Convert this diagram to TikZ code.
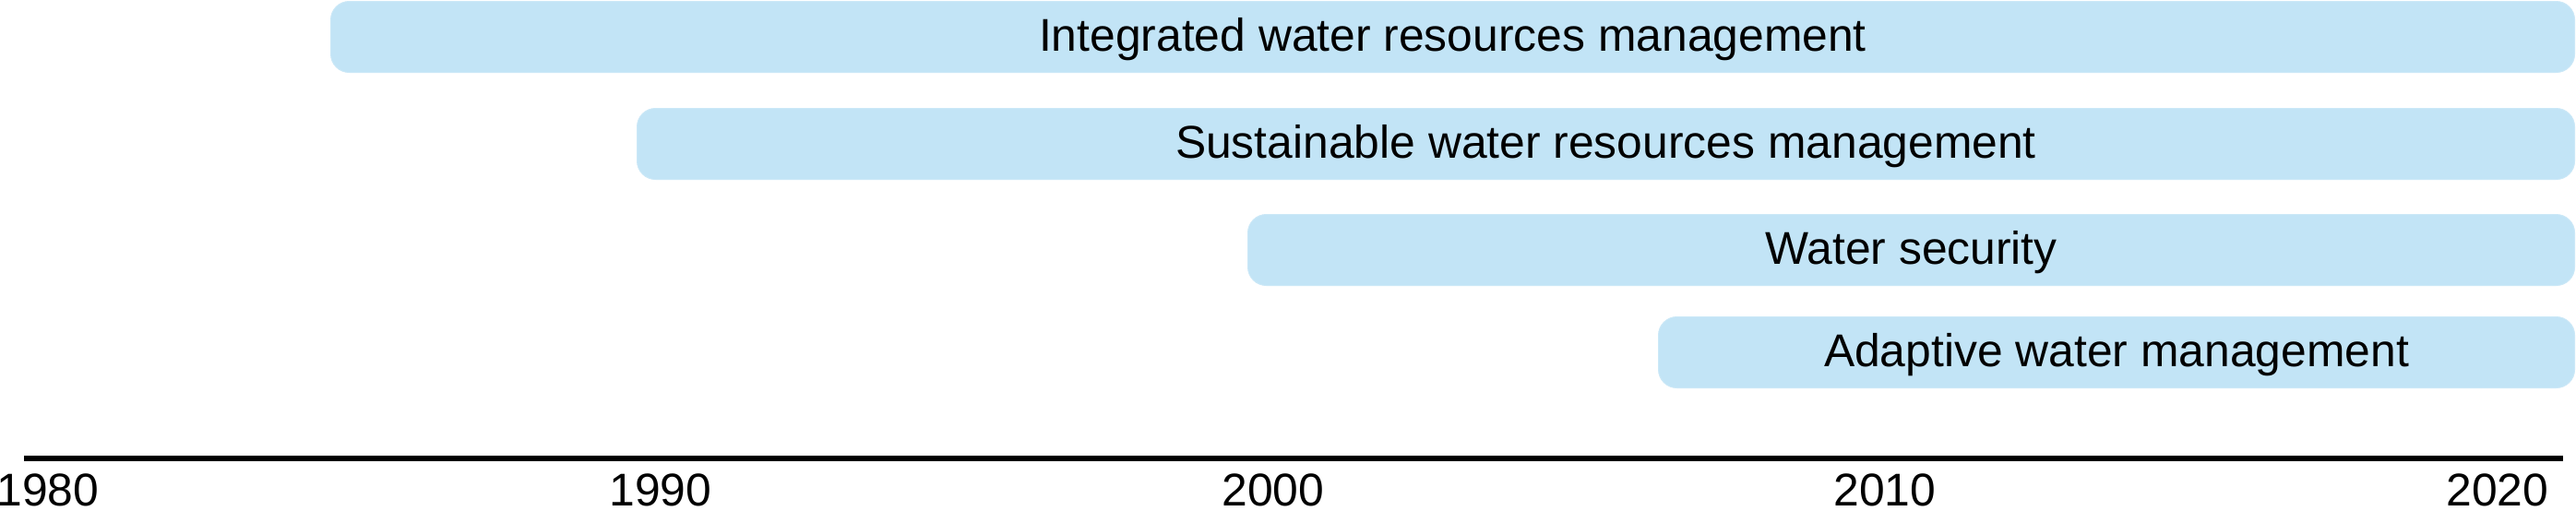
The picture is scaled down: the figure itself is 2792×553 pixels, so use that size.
\documentclass[tikz,border=0pt]{standalone}
\usepackage{fontspec}
\setmainfont{Liberation Sans}
\definecolor{barblue}{RGB}{194,228,246}
\begin{document}
\begin{tikzpicture}[x=0.5pt,y=-0.5pt,
  bar/.style={fill=barblue, draw=barblue!85!white, line width=0.5pt, rounded corners=10pt, anchor=north west,
    inner sep=0pt, minimum height=38.5pt, text height=17.8pt, text depth=2pt,
    font=\fontsize{24.9}{29}\selectfont, text=black},
  yearlabel/.style={anchor=base west, inner sep=0pt, font=\fontsize{24.9}{29}\selectfont},
  axisline/.style={line width=3pt, black}]
\useasboundingbox (0,0) rectangle (2792,553);
\node[bar, minimum width=1216pt] (b1) at (358,1) {Integrated water resources management};
\node[bar, minimum width=1050pt] (b2) at (690,117) {Sustainable water resources management};
\node[bar, minimum width=719pt] (b3) at (1352,232) {Water security};
\node[bar, minimum width=496.5pt] (b4) at (1797,343) {Adaptive water management};
\coordinate (axl) at (26,497);
\coordinate (axr) at (2778,497);
\draw[axisline] (axl) -- (axr);
\node[yearlabel] (y1980) at (-4,548) {1980};
\node[yearlabel] (y1990) at (660,548) {1990};
\node[yearlabel] (y2000) at (1324,548) {2000};
\node[yearlabel] (y2010) at (1987,548) {2010};
\node[yearlabel] (y2020) at (2651,548) {2020};
\end{tikzpicture}
\end{document}
